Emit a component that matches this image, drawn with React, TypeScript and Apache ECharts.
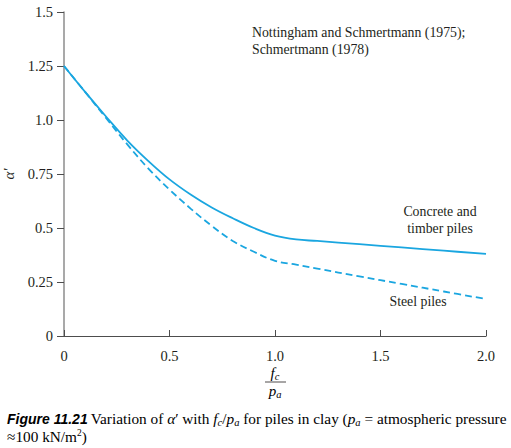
import { useEffect, useRef } from 'react'
import * as echarts from 'echarts'

// solid: concrete and timber piles
const concreteX = [0, 0.1, 0.2, 0.3, 0.4, 0.5, 0.6, 0.7, 0.8, 0.9, 1.0, 1.1, 1.2, 1.4, 1.6, 1.8, 2.0]
const concreteY = [1.25, 1.13, 1.015, 0.905, 0.81, 0.725, 0.655, 0.595, 0.545, 0.5, 0.465, 0.447, 0.44, 0.425, 0.41, 0.395, 0.38]

// dashed: steel piles
const steelX = [0, 0.1, 0.2, 0.3, 0.4, 0.5, 0.6, 0.7, 0.8, 0.9, 1.0, 1.1, 1.2, 1.4, 1.6, 1.8, 2.0]
const steelY = [1.25, 1.13, 1.008, 0.887, 0.775, 0.678, 0.59, 0.51, 0.44, 0.39, 0.348, 0.33, 0.312, 0.276, 0.241, 0.206, 0.171]

const xTickLabels = ['0', '0.5', '1.0', '1.5', '2.0']
const yTickLabels = ['0', '0.25', '0.5', '0.75', '1.0', '1.25', '1.5']

const LINE = '#1aa6e0'
const SERIF = "'Liberation Serif', 'DejaVu Serif', serif"
const SANS = "'Liberation Sans', Arial, sans-serif"
const TXT = '#231f20'

export default function App() {
  const ref = useRef<HTMLDivElement>(null)

  useEffect(() => {
    if (!ref.current) return
    const chart = echarts.init(ref.current, undefined, { renderer: 'svg' })

    const sub = { fontFamily: SERIF, fontSize: 10.5, fontStyle: 'italic' as const, color: TXT, verticalAlign: 'bottom' as const, lineHeight: 12 }
    const n = { fontFamily: SERIF, fontSize: 15.3, color: TXT, lineHeight: 18 }
    const it = { ...n, fontStyle: 'italic' as const }

    const option: echarts.EChartsOption = {
      animation: false,
      textStyle: { fontFamily: SERIF },
      grid: { left: 64, right: 25, top: 12, bottom: 112, containLabel: false, outerBoundsMode: 'none' } as any,
      xAxis: {
        type: 'value',
        min: 0,
        max: 2,
        interval: 0.5,
        axisLine: { lineStyle: { color: '#4d4d4d', width: 1.2 } },
        axisTick: { inside: true, length: 6, lineStyle: { color: '#4d4d4d' } },
        axisLabel: {
          margin: 12,
          fontFamily: SERIF,
          fontSize: 14.5,
          color: TXT,
          formatter: (v: number) => xTickLabels[Math.round(v / 0.5)] ?? '',
        },
        splitLine: { show: false },
      },
      yAxis: {
        type: 'value',
        min: 0,
        max: 1.5,
        interval: 0.25,
        name: 'α′',
        nameLocation: 'middle',
        nameRotate: 90,
        nameGap: 42,
        nameTextStyle: { fontFamily: SERIF, fontSize: 15, fontStyle: 'italic', color: TXT },
        axisLine: { show: true, lineStyle: { color: '#8c8c8c', width: 1.5 } },
        axisTick: { show: true, length: 7, lineStyle: { color: '#4d4d4d' } },
        axisLabel: {
          margin: 11,
          fontFamily: SERIF,
          fontSize: 14.5,
          color: TXT,
          formatter: (v: number) => yTickLabels[Math.round(v / 0.25)] ?? '',
        },
        splitLine: { show: false },
      },
      series: [
        {
          type: 'line',
          data: concreteX.map((x, i) => [x, concreteY[i]]),
          smooth: 0.4,
          showSymbol: false,
          lineStyle: { color: LINE, width: 1.8 },
        },
        {
          type: 'line',
          data: steelX.map((x, i) => [x, steelY[i]]),
          smooth: 0.4,
          showSymbol: false,
          lineStyle: { color: LINE, width: 1.8, type: [7, 4] },
        },
      ],
      graphic: [
        {
          type: 'text',
          left: 252,
          top: 24,
          style: {
            text: 'Nottingham and Schmertmann (1975);\nSchmertmann (1978)',
            fontFamily: SERIF,
            fontSize: 13.8,
            fill: TXT,
            lineHeight: 17,
          },
        },
        {
          type: 'text',
          x: 440,
          y: 220,
          style: {
            text: 'Concrete and\ntimber piles',
            fontFamily: SERIF,
            fontSize: 13.8,
            fill: TXT,
            align: 'center',
            verticalAlign: 'middle',
            lineHeight: 17,
          },
        },
        {
          type: 'text',
          x: 418,
          y: 301,
          style: {
            text: 'Steel piles',
            fontFamily: SERIF,
            fontSize: 13.8,
            fill: TXT,
            align: 'center',
            verticalAlign: 'middle',
          },
        },
        {
          type: 'text',
          x: 275,
          y: 373,
          style: {
            text: '{i|f}{s|c}',
            fontFamily: SERIF,
            align: 'center',
            verticalAlign: 'middle',
            rich: { i: { ...it, fontSize: 15 }, s: sub },
          },
        },
        {
          type: 'line',
          shape: { x1: 265, y1: 382, x2: 286, y2: 382 },
          style: { stroke: TXT, lineWidth: 0.8 },
        },
        {
          type: 'text',
          x: 275,
          y: 391,
          style: {
            text: '{i|p}{s|a}',
            fontFamily: SERIF,
            align: 'center',
            verticalAlign: 'middle',
            rich: { i: { ...it, fontSize: 15 }, s: sub },
          },
        },
        {
          type: 'text',
          left: 7,
          top: 411,
          style: {
            text:
              '{fig|Figure 11.21} {n|Variation of }{i|α}{n|′ with }{i|f}{s|c}{n|/}{i|p}{s|a}{n| for piles in clay (}{i|p}{s|a}{n| = atmospheric pressure}\n{n|≈100 kN/m}{sup|2}{n|)}',
            fontFamily: SERIF,
            rich: {
              fig: {
                fontFamily: SANS,
                fontSize: 14,
                fontWeight: 'bold',
                fontStyle: 'italic',
                color: '#12a5e3',
                lineHeight: 18,
              },
              n,
              i: it,
              s: sub,
              sup: { fontFamily: SERIF, fontSize: 9.5, color: TXT, verticalAlign: 'top', lineHeight: 14 },
            },
          },
        },
      ],
    }

    chart.setOption(option)
    return () => chart.dispose()
  }, [])

  return <div ref={ref} style={{ position: 'absolute', left: 0, top: 0, width: 511, height: 448 }} />
}
